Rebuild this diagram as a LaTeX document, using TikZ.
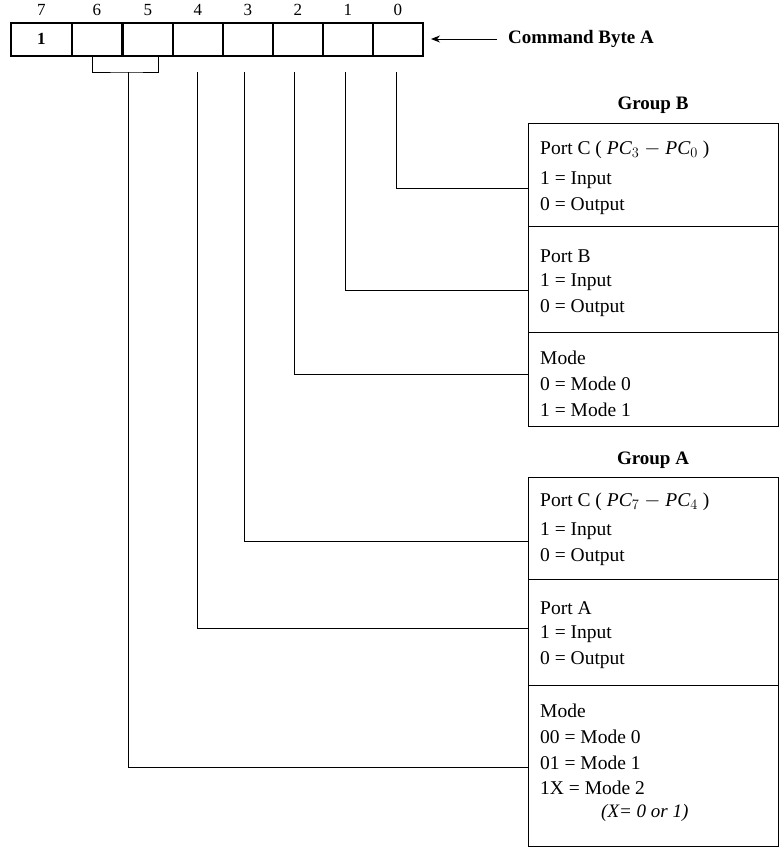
\documentclass[tikz,border=0pt]{standalone}
\usepackage{fontspec}
\setmainfont{Liberation Serif}
\usetikzlibrary{arrows.meta}
\begin{document}
\begin{tikzpicture}[x=1pt,y=-1pt,
  bit/.style={draw,line width=1.6pt,minimum height=33pt,inner sep=0pt,anchor=north west},
  num/.style={font=\fontsize{17}{17}\selectfont},
  box/.style={draw,line width=0.7pt,anchor=north west,minimum width=250pt,inner sep=0pt},
  txt/.style={anchor=west,inner sep=0pt,font=\fontsize{19.5}{19.5}\selectfont},
  hd/.style={font=\bfseries\fontsize{19}{19}\selectfont},
  ln/.style={line width=0.7pt}]
\useasboundingbox (0,0) rectangle (781,849);
\node[bit,minimum width=61pt] (b7) at (10,22) {\bfseries\fontsize{17}{17}\selectfont 1};
\foreach \i/\x in {6/71,5/122,4/172,3/222,2/272,1/322,0/372}{
  \node[bit,minimum width=50pt] (b\i) at (\x,22) {};
}
\foreach \i in {0,...,7}{\node[num] (n\i) at ([yshift=12pt]b\i.north) {\i};}
\node[hd,anchor=west,inner sep=0pt] (cmd) at (508,39) {Command Byte A};
\coordinate (ca) at (497,39);
\coordinate (cb) at (431,39);
\draw[line width=1pt,-{Stealth[length=9pt,width=7pt]}] (ca) -- (cb);
% bracket
\coordinate (br) at (128,72);
\draw[ln] (92,55) |- (br) -| (158,55);
% boxes
\node[box,minimum height=103pt] (pc1) at (528,123) {};
\node[box,minimum height=106pt] (pb) at (528,226) {};
\node[box,minimum height=94pt] (mb) at (528,332) {};
\node[box,minimum height=102pt] (pc2) at (528,477) {};
\node[box,minimum height=106pt] (pa) at (528,579) {};
\node[box,minimum height=161pt] (ma) at (528,685) {};
\node[hd] (gb) at (653,105) {Group B};
\node[hd] (ga) at (653,460) {Group A};
% texts
\node[txt] (t1a) at (540,150) {Port C ( \textit{PC}$_3$ $-$ \textit{PC}$_0$ )};
\node[txt] (t1b) at (540,180) {1 = Input};
\node[txt] (t1c) at (540,206) {0 = Output};
\node[txt] (t2a) at (540,256) {Port B};
\node[txt] (t2b) at (540,282) {1 = Input};
\node[txt] (t2c) at (540,308) {0 = Output};
\node[txt] (t3a) at (540,358) {Mode};
\node[txt] (t3b) at (540,384) {0 = Mode 0};
\node[txt] (t3c) at (540,410) {1 = Mode 1};
\node[txt] (t4a) at (540,502) {Port C ( \textit{PC}$_7$ $-$ \textit{PC}$_4$ )};
\node[txt] (t4b) at (540,531) {1 = Input};
\node[txt] (t4c) at (540,557) {0 = Output};
\node[txt] (t5a) at (540,608) {Port A};
\node[txt] (t5b) at (540,634) {1 = Input};
\node[txt] (t5c) at (540,660) {0 = Output};
\node[txt] (t6a) at (540,711) {Mode};
\node[txt] (t6b) at (540,737) {00 = Mode 0};
\node[txt] (t6c) at (540,763) {01 = Mode 1};
\node[txt] (t6d) at (540,788) {1X = Mode 2};
\node[txt,font=\itshape\fontsize{19}{19}\selectfont] (t6e) at (601,813) {(X= 0 or 1)};
% connectors
\draw[ln] (396,72) |- (pc1.west |- 0,188);
\draw[ln] (345,72) |- (pb.west |- 0,290);
\draw[ln] (294,72) |- (mb.west |- 0,374);
\draw[ln] (244,72) |- (pc2.west |- 0,541);
\draw[ln] (197,72) |- (pa.west |- 0,628);
\draw[ln] (br) |- (ma.west |- 0,767);
\end{tikzpicture}
\end{document}
